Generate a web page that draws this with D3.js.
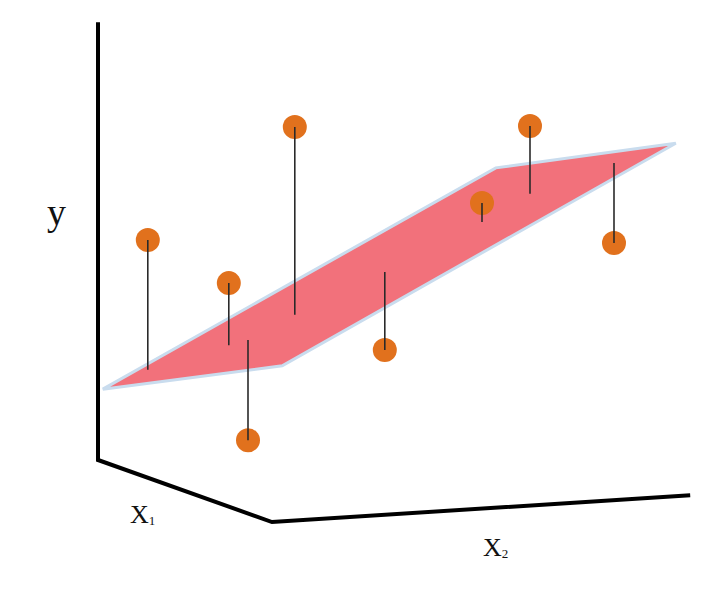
<!DOCTYPE html>
<html><head><meta charset="utf-8">
<script src="https://cdn.jsdelivr.net/npm/d3@7"></script>
<style>body{margin:0;background:#fff;}svg{display:block;}</style>
</head><body>
<script>
// Observations: horizontal position (x), observed y, fitted y on plane
const obsX   = [8.3, 21.8, 32.8, 25.0, 47.8, 64.0, 72.0, 86.0];
const obsY   = [50.0, 40.2, 75.7, 4.5, 25.0, 58.4, 75.9, 49.3];
const fitY   = [20.5, 26.1, 33.0, 27.3, 42.7, 54.1, 60.5, 67.5];
// Regression plane corners (projected)
const planeX = [0.8, 30.7, 96.3, 66.3];
const planeY = [16.1, 21.4, 72.0, 66.4];
// Axes (origin, y-top, x1-end, x2-end)
const axisX  = [0, 0, 29, 98.7];
const axisY  = [99.5, 0, -14.1, -8];
const labels = ["y", "X", "X"];
const subs   = ["", "1", "2"];

const W = 720, H = 602;
const svg = d3.select("body").append("svg").attr("width", W).attr("height", H);
const x = d3.scaleLinear().domain([0, 100]).range([98, 698]);
const y = d3.scaleLinear().domain([0, 100]).range([460, 20]);

// axes polyline
const axisPts = axisX.map((v, i) => [x(v), y(axisY[i])]);
svg.append("path")
  .attr("d", d3.line()(axisPts))
  .attr("fill", "none").attr("stroke", "#000").attr("stroke-width", 4)
  .attr("stroke-linejoin", "miter");

// plane
const planePts = planeX.map((v, i) => [x(v), y(planeY[i])]);
svg.append("path")
  .attr("d", d3.line().curve(d3.curveLinearClosed)(planePts))
  .attr("fill", "#F2717B").attr("stroke", "#C9DCEE").attr("stroke-width", 3)
  .attr("stroke-linejoin", "miter");

const data = obsX.map((v, i) => ({x: v, y: obsY[i], f: fitY[i]}));
// residual stems
svg.selectAll("line.stem").data(data).join("line")
  .attr("class", "stem")
  .attr("x1", d => x(d.x)).attr("x2", d => x(d.x))
  .attr("y1", d => y(d.y)).attr("y2", d => y(d.f))
  .attr("stroke", "#2a2a2a").attr("stroke-width", 1.6);
// points
svg.selectAll("circle.pt").data(data).join("circle")
  .attr("class", "pt")
  .attr("cx", d => x(d.x)).attr("cy", d => y(d.y)).attr("r", 12)
  .attr("fill", "#E1711D");
svg.selectAll("line.stem2").data(data).join("line")
  .attr("x1", d => x(d.x)).attr("x2", d => x(d.x))
  .attr("y1", d => y(d.y)).attr("y2", d => y(d.y) + (d.f < d.y ? 1 : -1) * 12)
  .attr("stroke", "#2a2a2a").attr("stroke-width", 1.6);

// labels
const labPos = [[47, 225, 38], [130, 523, 26], [483, 556, 26]];
labels.forEach((t, i) => {
  const tx = svg.append("text")
    .attr("x", labPos[i][0]).attr("y", labPos[i][1])
    .attr("font-family", "Liberation Serif, Times New Roman, serif")
    .attr("font-size", labPos[i][2]).attr("fill", "#111").text(t);
  if (subs[i]) tx.append("tspan").attr("font-size", 13).attr("dy", 2).text(subs[i]);
});
</script>
</body></html>
